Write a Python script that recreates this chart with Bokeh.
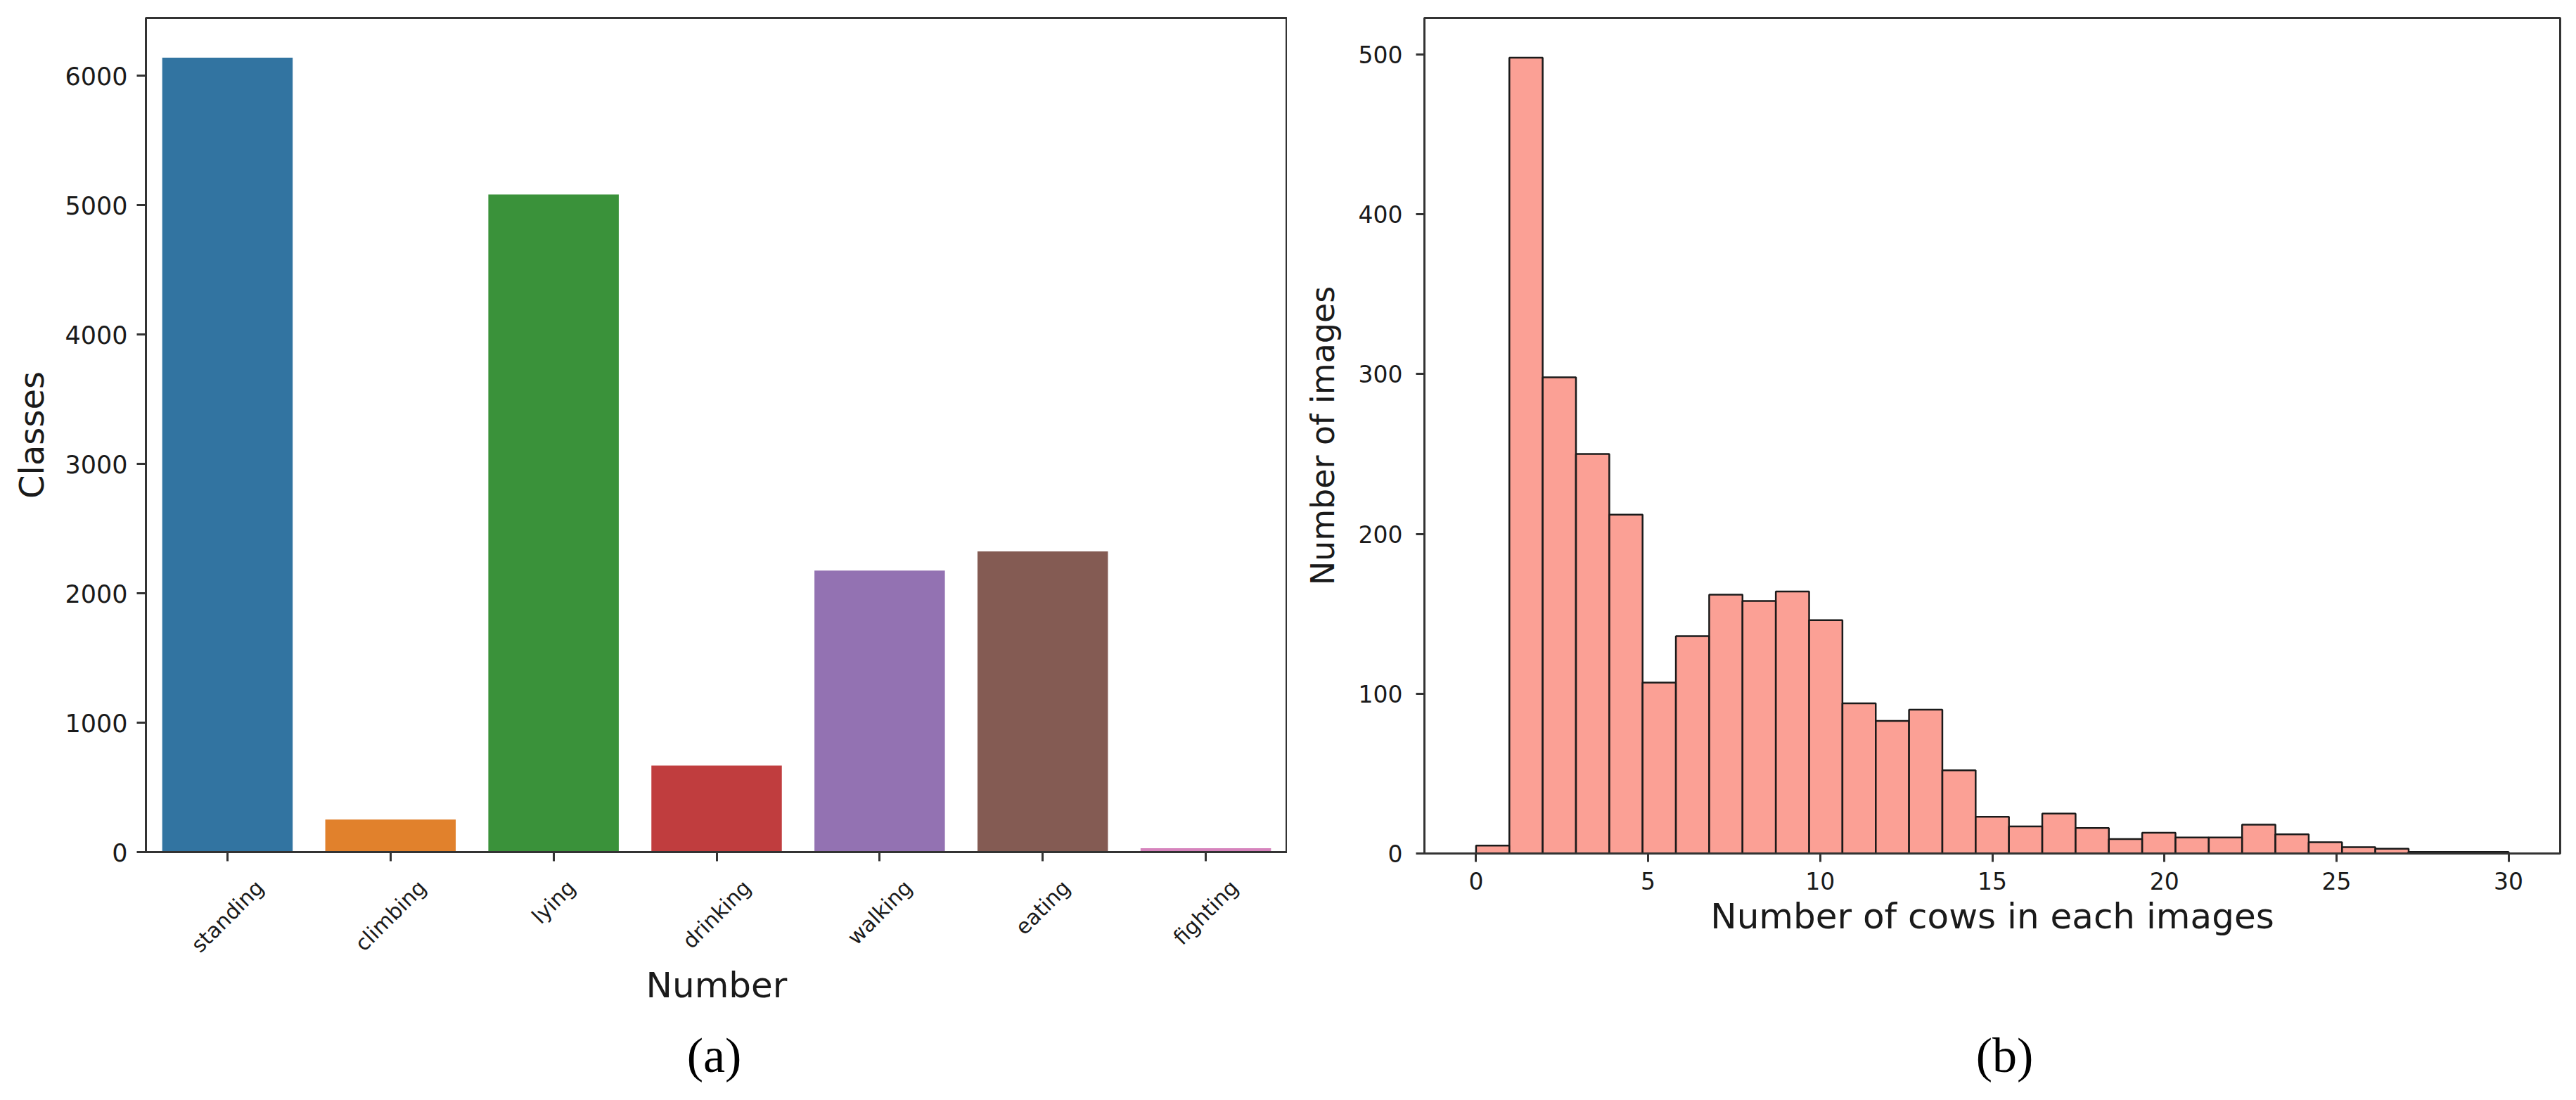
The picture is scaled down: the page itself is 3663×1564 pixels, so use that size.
import math
from bokeh.plotting import figure
from bokeh.models import (Range1d, FixedTicker, ColumnDataSource, LinearAxis,
                          CustomJSTickFormatter)
from bokeh.layouts import row, column
from bokeh.core.properties import value
from bokeh.embed import file_html
from bokeh.resources import INLINE

# ---------------- data ----------------
classes = ["standing", "climbing", "lying", "drinking", "walking", "eating", "fighting"]
class_counts = [6140, 251, 5083, 668, 2176, 2324, 30]
class_colors = ["#3274a1", "#e1812c", "#3a923a", "#c03d3e", "#9372b2", "#845b53", "#d684bd"]
left_yticks = [0, 1000, 2000, 3000, 4000, 5000, 6000]

hist_counts = [5, 498, 298, 250, 212, 107, 136, 162, 158, 164, 146, 94, 83, 90, 52,
               23, 17, 25, 16, 9, 13, 10, 10, 18, 12, 7, 4, 3, 1, 1, 1]
hist_min, hist_max = 0, 30
right_xticks = [0, 5, 10, 15, 20, 25, 30]
right_yticks = [0, 100, 200, 300, 400, 500]

captions = ["(a)", "(b)"]

FONT = "DejaVu Sans"
SPINE = "#333333"
TXT = "#1a1a1a"

# approximate DejaVu Sans advance widths (em), used to centre the rotated labels
CHAR_W = {"a": .613, "b": .635, "c": .550, "d": .635, "e": .615, "f": .352, "g": .635,
          "h": .634, "i": .278, "k": .579, "l": .278, "m": .974, "n": .634, "o": .612,
          "r": .411, "s": .521, "t": .392, "w": .818, "y": .592}


def style_axis(ax, tick_size, label_size, tick_out):
    ax.axis_line_color = SPINE
    ax.axis_line_width = 3
    ax.major_tick_line_color = SPINE
    ax.major_tick_line_width = 3
    ax.major_tick_in = 0
    ax.major_tick_out = tick_out
    ax.minor_tick_line_color = None
    ax.major_label_text_font = FONT
    ax.major_label_text_font_size = tick_size
    ax.major_label_text_color = TXT
    ax.axis_label_text_font = FONT
    ax.axis_label_text_font_size = label_size
    ax.axis_label_text_font_style = "normal"
    ax.axis_label_text_color = TXT


def style_frame(p):
    p.xgrid.visible = False
    p.ygrid.visible = False
    p.outline_line_color = SPINE
    p.outline_line_width = 3
    p.outline_line_alpha = 1


# ---------------- left: bar chart ----------------
FW1, FH1 = 1623, 1186
BL1, BR1 = 207, 0
xs = list(range(len(classes)))
src1 = ColumnDataSource(dict(x=xs, top=class_counts, color=class_colors))

p1 = figure(frame_width=FW1, frame_height=FH1,
            min_border_left=BL1, min_border_right=BR1, min_border_top=25, min_border_bottom=244,
            x_range=Range1d(-0.5, len(classes) - 0.5),
            y_range=Range1d(0, max(class_counts) * 1.05),
            output_backend="svg", toolbar_location=None)
p1.vbar(x="x", top="top", bottom=0, width=0.8, fill_color="color", line_color=None, source=src1)
style_frame(p1)

ya = p1.yaxis[0]
style_axis(ya, "35px", "48px", 13)
ya.ticker = FixedTicker(ticks=left_yticks)
ya.axis_label = "Classes"
ya.major_label_standoff = 13
ya.axis_label_standoff = 16

xa = p1.xaxis[0]
style_axis(xa, "1px", "50px", 13)
xa.ticker = FixedTicker(ticks=xs)
xa.major_label_overrides = {i: "" for i in xs}
xa.major_label_standoff = 0

# second axis carrying the rotated category names, placed like matplotlib's
# centred 45-degree labels (Bokeh anchors the right end of each label)
LBL = 30.0
px_per_unit = FW1 / len(classes)
label_pos = [i + 0.3536 * sum(CHAR_W.get(c, 0.6) for c in name) * LBL / px_per_unit
             for i, name in zip(xs, classes)]
xa2 = LinearAxis()
style_axis(xa2, "30px", "50px", 0)
xa2.axis_line_color = None
xa2.major_tick_line_color = None
xa2.ticker = FixedTicker(ticks=label_pos)
xa2.formatter = CustomJSTickFormatter(args=dict(names=classes), code="return names[index];")
xa2.major_label_orientation = math.pi / 4
xa2.major_label_standoff = 32
xa2.axis_label = "Number"
xa2.axis_label_standoff = -4
p1.add_layout(xa2, "below")

# ---------------- right: histogram ----------------
FW2, FH2 = 1615, 1188
W1 = BL1 + FW1 + BR1
BL2, BR2 = 2025 - W1, 15
nb = len(hist_counts)
bw = (hist_max - hist_min) / nb
lefts = [hist_min + i * bw for i in range(nb)]
rights = [hist_min + (i + 1) * bw for i in range(nb)]
src2 = ColumnDataSource(dict(left=lefts, right=rights, top=hist_counts))

span = hist_max - hist_min
p2 = figure(frame_width=FW2, frame_height=FH2,
            min_border_left=BL2, min_border_right=BR2, min_border_top=25, min_border_bottom=242,
            x_range=Range1d(hist_min - 0.05 * span, hist_max + 0.05 * span),
            y_range=Range1d(0, max(hist_counts) * 1.05),
            output_backend="svg", toolbar_location=None)
p2.quad(left="left", right="right", top="top", bottom=0, source=src2,
        fill_color="salmon", fill_alpha=0.75, line_color="#1a1a1a", line_width=2.5)
style_frame(p2)

xb = p2.xaxis[0]
style_axis(xb, "33px", "50px", 12)
xb.ticker = FixedTicker(ticks=right_xticks)
xb.major_label_standoff = 14
xb.axis_label = "Number of cows in each images"
xb.axis_label_standoff = 6

yb = p2.yaxis[0]
style_axis(yb, "33px", "46px", 12)
yb.ticker = FixedTicker(ticks=right_yticks)
yb.major_label_standoff = 19
yb.axis_label = "Number of images"
yb.axis_label_standoff = 21

# ---------------- captions ----------------
W2 = BL2 + FW2 + BR2
CAP_H = 100


def caption_fig(width, text, cx):
    c = figure(width=width, height=CAP_H, x_range=Range1d(0, width), y_range=Range1d(0, CAP_H),
               min_border=0, x_axis_location=None, y_axis_location=None,
               output_backend="svg", toolbar_location=None)
    c.xgrid.visible = False
    c.ygrid.visible = False
    c.outline_line_color = None
    c.text(x=[cx], y=[55], text=[text], text_font=value("Liberation Serif"),
           text_font_size="70px", text_align="center", text_baseline="middle",
           text_color="#000000")
    return c


c1 = caption_fig(W1, captions[0], 1015)
c2 = caption_fig(W2, captions[1], 2850 - W1)

layout = column(row(p1, p2), row(c1, c2))
open("out.html", "w").write(file_html(layout, INLINE))
